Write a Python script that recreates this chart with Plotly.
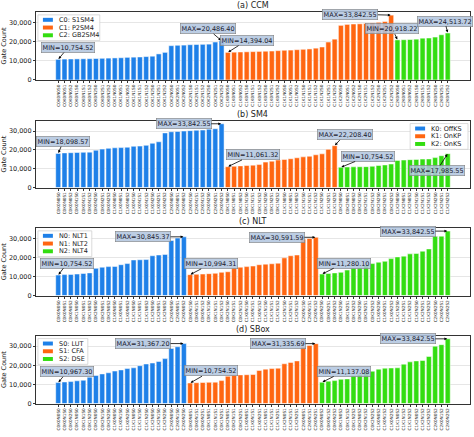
import plotly.graph_objects as go

# ---- data (each group sorted ascending) ----
ccm_c0 = [10754.52, 10900, 10950, 11000, 11050, 11100, 11200, 11300, 11400, 11500, 11600, 11800, 11900,
          12000, 12200, 12400, 13600, 14400, 17900, 18100, 18200, 18400, 18500, 18600, 18700, 19800, 20486.40]
ccm_c1 = [14394.04, 14500, 14600, 14700, 14800, 14900, 15000, 15100, 15300, 15500, 15600, 15800, 16000,
          16200, 16600, 17200, 19800, 21300, 28500, 29000, 29200, 29300, 29500, 29800, 30100, 30500, 33842.55]
ccm_c2 = [20918.22, 21000, 21100, 21300, 21800, 21900, 22400, 23600, 24513.72]

sm4_k0 = [18098.57, 18400, 18500, 18600, 18700, 18800, 19800, 20400, 20800, 21100, 21200, 21400, 21900,
          22000, 22400, 23500, 24300, 29000, 29600, 29800, 30000, 30200, 30400, 30500, 31000, 31200, 33842.55]
sm4_k1 = [11061.32, 11300, 11500, 11700, 11900, 12200, 13500, 14000, 14600, 14900, 15300, 15800, 16300,
          16600, 17400, 17900, 20300, 22208.40]
sm4_k2 = [10754.52, 10900, 11000, 11050, 11100, 11300, 11700, 12000, 12500, 14400, 14600, 14800, 14900,
          15100, 15200, 15900, 16900, 17985.55]

nlt_n0 = [10754.52, 11000, 11100, 11300, 11600, 11900, 14300, 14900, 15200, 15300, 16200, 16800, 18700,
          18800, 18900, 20900, 21300, 21600, 28900, 30200, 30845.37]
nlt_n1 = [10994.31, 11200, 11300, 11500, 11700, 12200, 12500, 14600, 14900, 15200, 15500, 16200, 16500,
          16700, 17000, 19800, 20900, 21300, 29600, 30000, 30591.59]
nlt_n2 = [11280.10, 11600, 11900, 12200, 13400, 14500, 14800, 15700, 16800, 17500, 18000, 19400, 20300,
          20700, 21900, 22100, 23300, 24500, 31100, 31200, 33842.55]

sbox_s0 = [10967.30, 11300, 11500, 11900, 12200, 13800, 14700, 15500, 16100, 17000, 17600, 18300, 18700,
           19800, 20700, 21200, 22000, 23500, 28800, 29700, 31367.20]
sbox_s1 = [10754.52, 10900, 11000, 11100, 11200, 12000, 14300, 14800, 15000, 15100, 15200, 17300, 18000,
           18300, 18500, 20800, 21500, 22300, 29800, 30400, 31335.69]
sbox_s2 = [11137.08, 11700, 12000, 12700, 12900, 14500, 15200, 16600, 16900, 18000, 18500, 18600, 18700,
           20600, 21800, 22300, 22500, 24600, 30000, 30800, 33842.55]

# design points: C2 only exists with K0
configs = [(c, k, n, s) for c in range(3) for k in range(3) for n in range(3) for s in range(3)
           if not (c == 2 and k != 0)]

panels = [
    ("(a) CCM", 0, ["C0: S1SM4", "C1: P2SM4", "C2: GB2SM4"], [ccm_c0, ccm_c1, ccm_c2]),
    ("(b) SM4", 1, ["K0: OffKS", "K1: OnKP", "K2: OnKS"], [sm4_k0, sm4_k1, sm4_k2]),
    ("(c) NLT", 2, ["N0: NLT1", "N1: NLT2", "N2: NLT4"], [nlt_n0, nlt_n1, nlt_n2]),
    ("(d) SBox", 3, ["S0: LUT", "S1: CFA", "S2: DSE"], [sbox_s0, sbox_s1, sbox_s2]),
]

colors = ["#1E80E8", "#FF6611", "#33DD11"]

# (ax, ay) pixel offsets of MIN / MAX boxes per panel and group
offsets = [
    [((10, -12), (-14, -12)), ((19, -12), (-41, -1)), ((-5, -11), (-3, -12))],
    [((5, -12), (-38, 0)), ((25, -12), (10, -11)), ((27, -11), (-11, 17))],
    [((9, -12), (-41, 0)), ((21, -11), (-39, 0)), ((22, -11), (-40, 0))],
    [((9, -11), (-41, 0)), ((21, -12), (-38, 0)), ((22, -11), (-40, 0))],
]

H = 437
W = 474
XL, XR = 35, 470
ydoms = [(12, 80.7), (121.7, 189.3), (230, 298.3), (338.7, 407.3)]
leg_side = ["left", "right", "left", "left"]

fig = go.Figure()
annotations = []
shapes = []
letters = "CKNS"

for p, (title, dim, names, groups) in enumerate(panels):
    xa = "x" if p == 0 else f"x{p + 1}"
    ya = "y" if p == 0 else f"y{p + 1}"
    for g, vals in enumerate(groups):
        cfgs = [cf for cf in configs if cf[dim] == g][:len(vals)]
        labels = ["".join(f"{letters[i]}{cf[i]}" for i in range(4)) for cf in cfgs]
        fig.add_trace(go.Bar(
            x=labels, y=vals, name=names[g], marker_color=colors[g],
            marker_line_color="white", marker_line_width=0.5,
            xaxis=xa, yaxis=ya, showlegend=False,
        ))
        lo, hi = vals.index(min(vals)), vals.index(max(vals))
        for (idx, tag, off) in [(lo, "MIN", offsets[p][g][0]), (hi, "MAX", offsets[p][g][1])]:
            annotations.append(dict(
                x=labels[idx], y=vals[idx], xref=xa, yref=ya,
                text=f"{tag}={vals[idx]:,.2f}", showarrow=True,
                ax=off[0], ay=off[1], arrowhead=2, arrowsize=0.7, arrowwidth=0.8,
                arrowcolor="black", standoff=0.5,
                font=dict(size=6.5, color="#1a1a2e", family="DejaVu Sans"),
                bgcolor="rgba(176,196,222,0.85)", bordercolor="#808080",
                borderwidth=0.6, borderpad=1,
            ))

    top, bot = ydoms[p]
    dom = [1 - bot / H, 1 - top / H]
    sfx = "" if p == 0 else str(p + 1)
    fig.layout["xaxis" + sfx] = dict(
        domain=[XL / W, XR / W], anchor=ya, range=[-3.55, 65.55],
        tickangle=-90, tickfont=dict(size=4.2, color="#222", family="DejaVu Sans"),
        showline=True, linecolor="#333", linewidth=1, mirror=True,
        ticks="outside", ticklen=2, tickcolor="#333", showgrid=False,
    )
    fig.layout["yaxis" + sfx] = dict(
        domain=dom, anchor=xa, range=[0, 35534],
        tickvals=[0, 10000, 20000, 30000], ticktext=["0", "10,000", "20,000", "30,000"],
        tickfont=dict(size=6.5, color="#222"),
        title=dict(text="Gate Count", font=dict(size=6.5), standoff=4),
        showline=True, linecolor="#333", linewidth=1, mirror=True,
        ticks="outside", ticklen=2, tickcolor="#333",
        gridcolor="#e6e6e6", gridwidth=0.6, zeroline=False,
    )
    annotations.append(dict(
        x=(XL + XR) / 2 / W, y=1 - (top - 6.5) / H, xref="paper", yref="paper",
        text=title, showarrow=False, font=dict(size=8, color="#222"),
        xanchor="center", yanchor="middle",
    ))

    # hand-made legend box (matplotlib-like compact rows)
    bw = 22 + 4.0 * max(len(n) for n in names)
    bx0 = XL + 2 if leg_side[p] == "left" else XR - 2 - bw
    by0 = top + 3
    shapes.append(dict(
        type="rect", xref="paper", yref="paper",
        x0=bx0 / W, x1=(bx0 + bw) / W, y0=1 - by0 / H, y1=1 - (by0 + 26) / H,
        fillcolor="rgba(255,255,255,0.9)", line=dict(color="#cccccc", width=0.7),
    ))
    for g, name in enumerate(names):
        ry = by0 + 5 + g * 7.8
        shapes.append(dict(
            type="rect", xref="paper", yref="paper",
            x0=(bx0 + 5) / W, x1=(bx0 + 15) / W, y0=1 - (ry - 2) / H, y1=1 - (ry + 2) / H,
            fillcolor=colors[g], line=dict(width=0),
        ))
        annotations.append(dict(
            x=(bx0 + 19) / W, y=1 - ry / H, xref="paper", yref="paper",
            text=name, showarrow=False, xanchor="left", yanchor="middle",
            font=dict(size=6.5, color="#222"),
        ))

fig.update_layout(
    width=W, height=H, margin=dict(l=0, r=0, t=0, b=0),
    paper_bgcolor="white", plot_bgcolor="white",
    font=dict(family="DejaVu Sans", color="#222"),
    bargap=0.2, annotations=annotations, shapes=shapes,
)

# drop the browser's default body margin so the figure sits at the page corner
fig.write_html("out.html", config={"displayModeBar": False},
               post_script="document.body.style.margin='0px';")
